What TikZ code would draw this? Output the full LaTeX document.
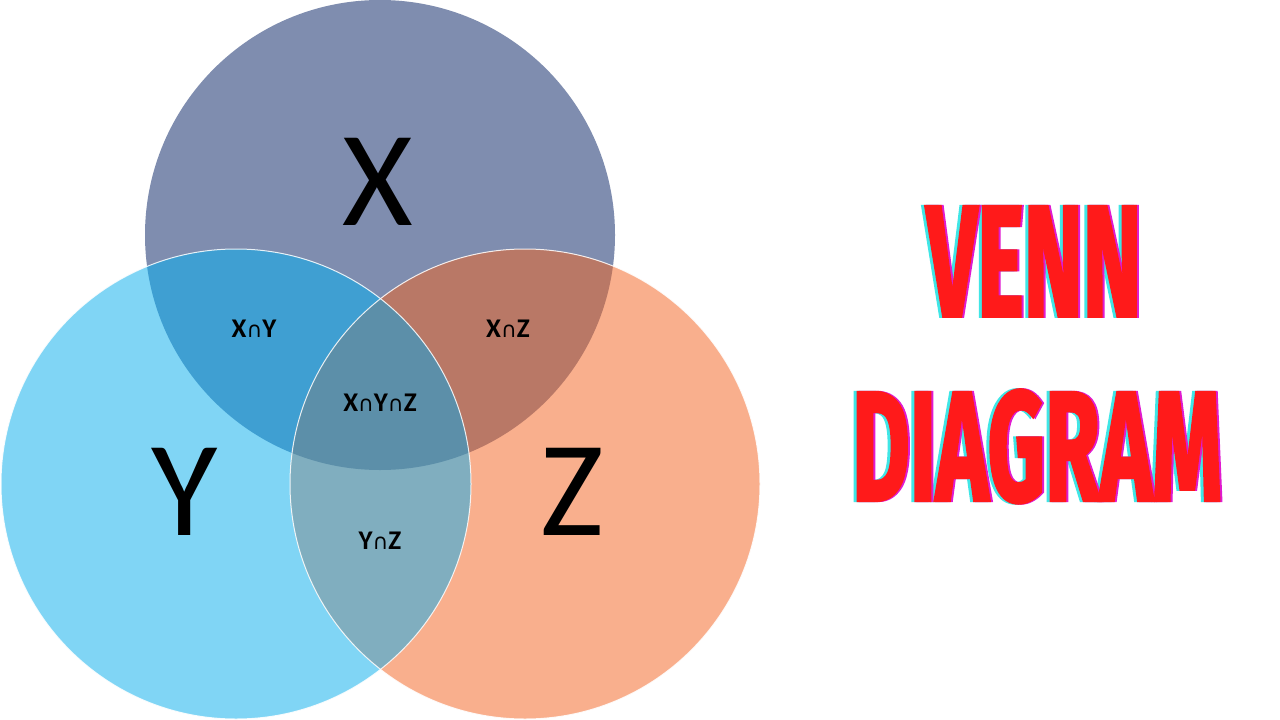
\documentclass[tikz,border=0pt]{standalone}
\usepackage{fontspec}
\setmainfont{Carlito}
\newfontfamily\dejavu{DejaVu Sans}
\newfontfamily\titlefont{Fira Sans}[BoldFeatures={FakeBold=2.5}]
\definecolor{colX}{HTML}{7F8DAF}
\definecolor{colY}{HTML}{80D5F5}
\definecolor{colZ}{HTML}{F9AF8D}
\definecolor{colXY}{HTML}{3F9FD2}
\definecolor{colXZ}{HTML}{B97866}
\definecolor{colYZ}{HTML}{80AEBF}
\definecolor{colXYZ}{HTML}{5C8FA9}
\definecolor{titlered}{HTML}{FF1A1A}
\definecolor{titlecyan}{HTML}{3FE6E6}
\definecolor{titlemag}{HTML}{E01AD0}
\newcommand\icap{\scalebox{0.8}{\dejavu\mdseries ∩}}
\begin{document}
\begin{tikzpicture}[x=1pt,y=-1pt,
  biglabel/.style={font=\fontsize{136}{136}\selectfont, inner sep=0pt, anchor=base},
  smalllabel/.style={font=\bfseries\fontsize{27}{27}\selectfont, inner sep=0pt, anchor=base},
  titletext/.style={inner sep=0pt, anchor=south},
  rim/.style={draw=white, line width=1pt, draw opacity=0.85}]
\fill[white] (0,0) rectangle (1280,720);
\path[use as bounding box] (0,0) rectangle (1280,720);
\coordinate (cX) at (380,235);
\coordinate (cY) at (236,484);
\coordinate (cZ) at (525,484);
\def\R{235pt}
% base circles
\fill[colX] (cX) circle[radius=\R];
\fill[colY] (cY) circle[radius=\R];
\fill[colZ] (cZ) circle[radius=\R];
% pairwise intersections
\begin{scope}
  \clip (cX) circle[radius=\R];
  \fill[colXY] (cY) circle[radius=\R];
  \fill[colXZ] (cZ) circle[radius=\R];
\end{scope}
\begin{scope}
  \clip (cY) circle[radius=\R];
  \fill[colYZ] (cZ) circle[radius=\R];
  \clip (cX) circle[radius=\R];
  \fill[colXYZ] (cZ) circle[radius=\R];
\end{scope}
% white rims
\path[rim] (cY) circle[radius=\R];
\path[rim] (cZ) circle[radius=\R];
% labels
\node[biglabel] (lX) at (378,225) {X};
\node[biglabel] (lY) at (185,535) {Y};
\node[biglabel] (lZ) at (572,535) {Z};
\node[smalllabel] (lXY) at (254,337) {X\icap Y};
\node[smalllabel] (lXZ) at (508,337) {X\icap Z};
\node[smalllabel] (lXYZ) at (380,411) {X\icap Y\icap Z};
\node[smalllabel] (lYZ) at (380,549) {Y\icap Z};
% title
\foreach \dx/\col/\nm in {-3/titlecyan/c, 2/titlemag/m, 0/titlered/r}{
  \node[titletext, text=\col] (venn\nm) at (1034+\dx,316) {\resizebox{215pt}{109pt}{\titlefont\bfseries VENN}};
  \node[titletext, text=\col] (diag\nm) at (1037+\dx,503) {\resizebox{370pt}{110pt}{\titlefont\bfseries DIAGRAM}};
}
\end{tikzpicture}
\end{document}
